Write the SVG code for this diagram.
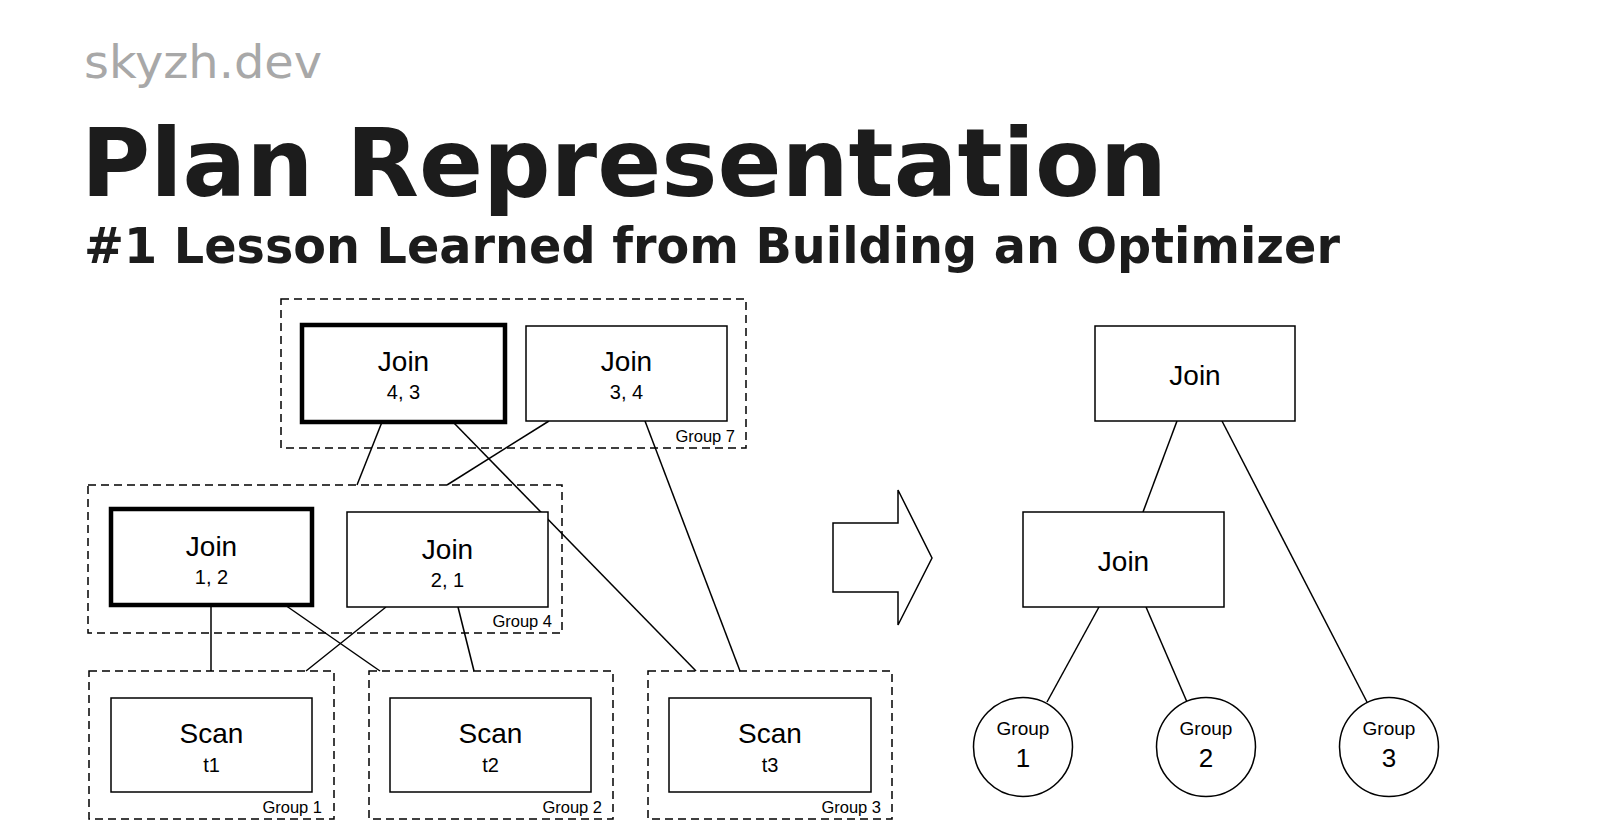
<svg xmlns="http://www.w3.org/2000/svg" width="1600" height="836" viewBox="0 0 1600 836">
<style>
.bg{fill:#ffffff}
.grp{fill:none;stroke:#000;stroke-width:1.5;stroke-dasharray:8 5}
.node{fill:#fff;stroke:#000;stroke-width:1.5}
.sel{fill:#fff;stroke:#000;stroke-width:4.5}
.edge{stroke:#000;stroke-width:1.5;fill:none}
.t1{font-family:"Liberation Sans",Arial,Helvetica,sans-serif;font-size:28px;fill:#000;text-anchor:middle}
.t2{font-family:"Liberation Sans",Arial,Helvetica,sans-serif;font-size:20px;fill:#000;text-anchor:middle}
.gl{font-family:"Liberation Sans",Arial,Helvetica,sans-serif;font-size:16.5px;fill:#000;text-anchor:end}
.cg{font-family:"Liberation Sans",Arial,Helvetica,sans-serif;font-size:19px;fill:#000;text-anchor:middle}
.cn{font-family:"Liberation Sans",Arial,Helvetica,sans-serif;font-size:26px;fill:#000;text-anchor:middle}
</style>
<rect class="bg" x="0" y="0" width="1600" height="836"/>
<g id="header">
<text x="84" y="78" font-family="'DejaVu Sans',Verdana,sans-serif" font-size="46" fill="#a8a8a8" textLength="238" lengthAdjust="spacingAndGlyphs">skyzh.dev</text>
<text x="81" y="196" font-family="'DejaVu Sans',Verdana,sans-serif" font-weight="bold" font-size="95" fill="#1c1c1c" textLength="1086" lengthAdjust="spacingAndGlyphs">Plan Representation</text>
<text x="84" y="263" font-family="'DejaVu Sans',Verdana,sans-serif" font-weight="bold" font-size="50" fill="#1c1c1c" textLength="1256" lengthAdjust="spacingAndGlyphs">#1 Lesson Learned from Building an Optimizer</text>
</g>
<g id="connectors">
<line class="edge" x1="382" y1="422" x2="357" y2="485"/>
<line class="edge" x1="453" y1="422" x2="696" y2="671"/>
<line class="edge" x1="549" y1="421" x2="447" y2="485"/>
<line class="edge" x1="645" y1="421" x2="740" y2="671"/>
<line class="edge" x1="211" y1="605" x2="211" y2="671"/>
<line class="edge" x1="285" y1="605" x2="380" y2="671"/>
<line class="edge" x1="386" y1="607" x2="306" y2="671"/>
<line class="edge" x1="458" y1="607" x2="474" y2="671"/>
<line class="edge" x1="1177" y1="421" x2="1143" y2="512"/>
<line class="edge" x1="1222" y1="421" x2="1367" y2="702"/>
<line class="edge" x1="1099" y1="607" x2="1047" y2="702"/>
<line class="edge" x1="1146" y1="607" x2="1187" y2="702"/>
</g>
<g id="group7">
<rect class="grp" x="281" y="299" width="465" height="149"/>
<text class="gl" x="735" y="442">Group 7</text>
</g>
<g id="join43">
<rect class="sel" x="302" y="325" width="203" height="97"/>
<text class="t1" x="403.5" y="371">Join</text>
<text class="t2" x="403.5" y="399">4, 3</text>
</g>
<g id="join34">
<rect class="node" x="526" y="326" width="201" height="95"/>
<text class="t1" x="626.5" y="371">Join</text>
<text class="t2" x="626.5" y="399">3, 4</text>
</g>
<g id="group4">
<rect class="grp" x="88" y="485" width="474" height="148"/>
<text class="gl" x="552" y="627">Group 4</text>
</g>
<g id="join12">
<rect class="sel" x="111" y="509" width="201" height="96"/>
<text class="t1" x="211.5" y="556">Join</text>
<text class="t2" x="211.5" y="584">1, 2</text>
</g>
<g id="join21">
<rect class="node" x="347" y="512" width="201" height="95"/>
<text class="t1" x="447.5" y="559">Join</text>
<text class="t2" x="447.5" y="587">2, 1</text>
</g>
<g id="group1">
<rect class="grp" x="89" y="671" width="245" height="148"/>
<text class="gl" x="322" y="813">Group 1</text>
</g>
<g id="scan1">
<rect class="node" x="111" y="698" width="201" height="94"/>
<text class="t1" x="211.5" y="743">Scan</text>
<text class="t2" x="211.5" y="772">t1</text>
</g>
<g id="group2">
<rect class="grp" x="369" y="671" width="244" height="148"/>
<text class="gl" x="602" y="813">Group 2</text>
</g>
<g id="scan2">
<rect class="node" x="390" y="698" width="201" height="94"/>
<text class="t1" x="490.5" y="743">Scan</text>
<text class="t2" x="490.5" y="772">t2</text>
</g>
<g id="group3">
<rect class="grp" x="648" y="671" width="244" height="148"/>
<text class="gl" x="881" y="813">Group 3</text>
</g>
<g id="scan3">
<rect class="node" x="669" y="698" width="202" height="94"/>
<text class="t1" x="770" y="743">Scan</text>
<text class="t2" x="770" y="772">t3</text>
</g>
<g id="arrow">
<polygon class="node" points="833,523 898,523 898,490 932,558 898,625 898,592 833,592"/>
</g>
<g id="rjoin-top">
<rect class="node" x="1095" y="326" width="200" height="95"/>
<text class="t1" x="1195" y="385">Join</text>
</g>
<g id="rjoin-mid">
<rect class="node" x="1023" y="512" width="201" height="95"/>
<text class="t1" x="1123.5" y="571">Join</text>
</g>
<g id="rgroup1">
<circle class="node" cx="1023" cy="747" r="49.5"/>
<text class="cg" x="1023" y="735">Group</text>
<text class="cn" x="1023" y="767">1</text>
</g>
<g id="rgroup2">
<circle class="node" cx="1206" cy="747" r="49.5"/>
<text class="cg" x="1206" y="735">Group</text>
<text class="cn" x="1206" y="767">2</text>
</g>
<g id="rgroup3">
<circle class="node" cx="1389" cy="747" r="49.5"/>
<text class="cg" x="1389" y="735">Group</text>
<text class="cn" x="1389" y="767">3</text>
</g>
</svg>
